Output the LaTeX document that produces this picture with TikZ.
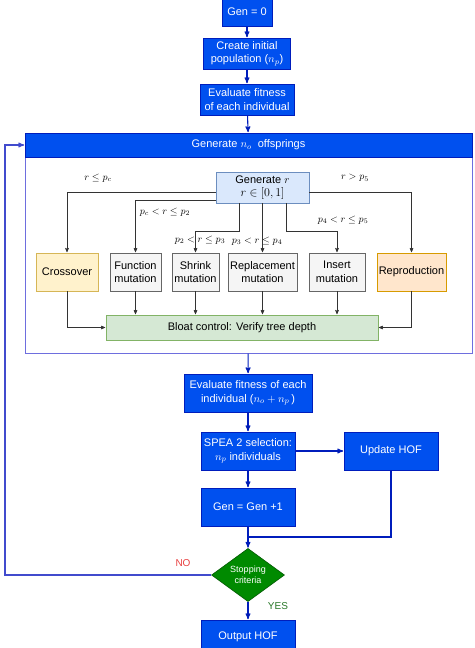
\documentclass[tikz,border=0pt]{standalone}
\usepackage{fontspec}
\setmainfont{Liberation Sans}
\usepackage{tikz}
\usetikzlibrary{arrows}
\usetikzlibrary{shapes.geometric}
\definecolor{dblue}{RGB}{0,29,188}
\definecolor{fblue}{RGB}{0,80,239}
\definecolor{lblue}{RGB}{110,110,222}
\definecolor{loopblue}{RGB}{65,75,205}
\definecolor{rblue}{RGB}{218,232,252}
\definecolor{eblue}{RGB}{108,142,191}
\definecolor{lyellow}{RGB}{255,242,204}
\definecolor{dyellow}{RGB}{214,182,86}
\definecolor{lorange}{RGB}{255,230,204}
\definecolor{dorange}{RGB}{215,155,0}
\definecolor{lgrey}{RGB}{245,245,245}
\definecolor{dgrey}{RGB}{102,102,102}
\definecolor{lgreen}{RGB}{213,232,212}
\definecolor{dgreen}{RGB}{130,179,102}
\definecolor{sgreen}{RGB}{0,138,0}
\definecolor{sdgreen}{RGB}{0,87,0}
\definecolor{nored}{RGB}{232,64,64}
\definecolor{yesgreen}{RGB}{40,120,40}

\begin{document}
\begin{tikzpicture}[x=1pt,y=-1pt,->,>=stealth',shorten >=0.5pt,thick]
      \tikzstyle{blk}=[rectangle,fill=fblue,draw=dblue,line width=0.6pt,text=white,align=center,inner sep=0pt,font=\fontsize{11}{13.5}\selectfont]
      \tikzstyle{opbox}=[rectangle,draw,line width=0.6pt,align=center,minimum height=38pt,inner sep=1pt,font=\fontsize{11}{13.5}\selectfont]
      \tikzstyle{cond}=[font=\fontsize{10}{11}\selectfont,inner sep=0pt]
      \tikzstyle{flow}=[draw=dblue,line width=1.1pt]
      \tikzstyle{sub}=[draw=black!80,line width=0.6pt]
      \useasboundingbox (0,0) rectangle (474,648);

      \node[blk,minimum width=50pt,minimum height=29pt]	(gen0) at (247,11.5) {Gen = 0};
      \node[blk,minimum width=87pt,minimum height=31pt]	(init) at (247,53.5) {Create initial\\population ($n_p$)};
      \node[blk,minimum width=94pt,minimum height=31pt]	(eval) at (247,99.5) {Evaluate fitness\\of each individual};
      \node[draw=lblue,line width=1pt,minimum width=447pt,minimum height=220pt]	(box) at (248.5,243) {};
      \node[blk,minimum width=447pt,minimum height=24pt]	(gen) at (248.5,145) {Generate $n_o$\ \ offsprings};

      \node[opbox,fill=rblue,draw=eblue,minimum width=93pt,minimum height=31pt]	(genr) at (262.5,187.5) {Generate $r$\\{\fontsize{12.5}{14}\selectfont$r\in[0,1]$}};
      \node[opbox,fill=lyellow,draw=dyellow,minimum width=62pt]	(cross) at (67,272) {Crossover};
      \node[opbox,fill=lgrey,draw=dgrey,minimum width=51pt]	(func) at (135.5,272) {Function\\mutation};
      \node[opbox,fill=lgrey,draw=dgrey,minimum width=47pt]	(shrink) at (195.5,272) {Shrink\\mutation};
      \node[opbox,fill=lgrey,draw=dgrey,minimum width=69pt]	(repl) at (262.5,272) {Replacement\\mutation};
      \node[opbox,fill=lgrey,draw=dgrey,minimum width=56pt]	(ins) at (337,272) {Insert\\mutation};
      \node[opbox,fill=lorange,draw=dorange,minimum width=69pt]	(repro) at (411.5,272) {Reproduction};
      \node[opbox,fill=lgreen,draw=dgreen,minimum width=272pt,minimum height=25pt]	(bloat) at (242,327.5) {Bloat control: Verify tree depth};

      \node[cond]	(c1) at (98,178) {$r\le p_c$};
      \node[cond]	(c2) at (165,212) {$p_c<r\le p_2$};
      \node[cond]	(c3) at (200,240) {$p_2<r\le p_3$};
      \node[cond]	(c4) at (257,241) {$p_3<r\le p_4$};
      \node[cond]	(c5) at (343,220) {$p_4<r\le p_5$};
      \node[cond]	(c6) at (355,178) {$r>p_5$};

      \node[blk,minimum width=128pt,minimum height=38pt]	(eval2) at (248,393) {Evaluate fitness of each\\individual ($n_o+n_p$\,)};
      \node[blk,minimum width=94pt,minimum height=38pt]	(spea) at (248,451) {SPEA 2 selection:\\$n_p$ individuals};
      \node[blk,minimum width=94pt,minimum height=38pt]	(hof) at (391,451) {Update HOF};
      \node[blk,minimum width=94pt,minimum height=38pt]	(gen1) at (248,507) {Gen = Gen +1};
      \node[diamond,fill=sgreen,draw=sdgreen,line width=0.6pt,text=white,align=center,inner sep=0pt,minimum width=73pt,minimum height=48pt,font=\fontsize{9}{11}\selectfont]	(stop) at (248,575) {Stopping\\criteria};
      \node[blk,minimum width=94pt,minimum height=34pt]	(out) at (248,637) {Output HOF};
      \node[text=nored,font=\fontsize{10}{12}\selectfont]	(no) at (183,563) {NO};
      \node[text=yesgreen,font=\fontsize{10}{12}\selectfont]	(yes) at (278,606) {YES};
      \coordinate	(merge) at (248,537);
      \coordinate	(back) at (5,575);

      \path[flow]
	(gen0) edge	(init)
	(init) edge	(eval)
	(eval) edge	(gen)
	(box) edge	(eval2)
	(eval2) edge	(spea)
	(spea) edge	(hof)
	(spea) edge	(gen1)
	(gen1) edge	(stop)
	(stop) edge	(out);
      \draw[flow,-] (hof) |- (merge);
      \draw[flow,draw=loopblue] (stop) -- (back) |- (gen);

      \draw[sub] ([yshift=-4.5pt]genr.west) -| (cross);
      \draw[sub] ([yshift=-13pt]genr.west) -| (func);
      \draw[sub] ([xshift=-23.5pt]genr.south) -- ++(0,28) -| (shrink);
      \draw[sub] (genr) -- (repl);
      \draw[sub] ([xshift=23.5pt]genr.south) -- ++(0,28) -| (ins);
      \draw[sub] ([yshift=-4.5pt]genr.east) -| (repro);
      \draw[sub] (cross) |- (bloat);
      \draw[sub] (repro) |- (bloat);
      \draw[sub] (func) -- (func |- bloat.north);
      \draw[sub] (shrink) -- (shrink |- bloat.north);
      \draw[sub] (repl) -- (repl |- bloat.north);
      \draw[sub] (ins) -- (ins |- bloat.north);
\end{tikzpicture}
\end{document}
